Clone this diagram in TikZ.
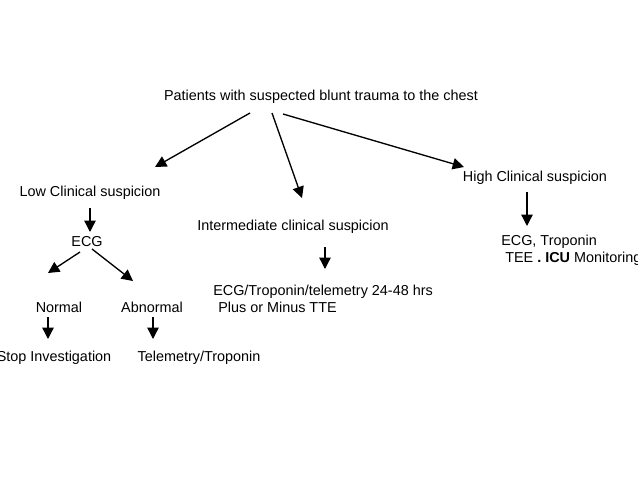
\documentclass[tikz,border=0pt]{standalone}
\usepackage{fontspec}
\setmainfont{Liberation Sans}
\usetikzlibrary{arrows.meta}
\begin{document}
\begin{tikzpicture}[x=0.75pt,y=-0.75pt,
  lbl/.style={inner sep=0pt,font=\fontsize{10.8pt}{12pt}\selectfont},
  arr/.style={line width=1pt,-{Triangle[length=8.5pt,width=8.5pt]}}]
\useasboundingbox (0,0) rectangle (638,478);
\fill[white] (0,0) rectangle (638,478);
\node[lbl] (top) at (321,97) {Patients with suspected blunt trauma to the chest};
\node[lbl] (low) at (90,193) {Low Clinical suspicion};
\node[lbl] (ecg) at (87,242) {ECG};
\node[lbl] (normal) at (59,307) {Normal};
\node[lbl] (abn) at (152,307) {Abnormal};
\node[lbl] (stop) at (54,358) {Stop Investigation};
\node[lbl] (tel) at (199,358) {Telemetry/Troponin};
\node[lbl] (inter) at (293,227) {Intermediate clinical suspicion};
\node[lbl,anchor=west] (ecgt) at (213,292) {ECG/Troponin/telemetry 24-48 hrs};
\node[lbl,anchor=west] (plus) at (218,307) {Plus or Minus TTE};
\node[lbl] (high) at (535,178) {High Clinical suspicion};
\node[lbl,anchor=west] (hecg) at (501,242) {ECG, Troponin};
\node[lbl,anchor=west] (htee) at (505,259) {TEE \textbf{. ICU} Monitoring};
% arrow endpoints
\coordinate (a1s) at (250,113); \coordinate (a1e) at (155,167);
\coordinate (a2s) at (272,113); \coordinate (a2e) at (302,198);
\coordinate (a3s) at (283,114); \coordinate (a3e) at (464,167);
\coordinate (b1s) at (90,208);  \coordinate (b1e) at (90,232);
\coordinate (c1s) at (80,252);  \coordinate (c1e) at (48,273);
\coordinate (c2s) at (92,249);  \coordinate (c2e) at (133,281);
\coordinate (d1s) at (48,317);  \coordinate (d1e) at (48,339);
\coordinate (d2s) at (153,317); \coordinate (d2e) at (153,339);
\coordinate (e1s) at (325,247); \coordinate (e1e) at (325,269);
\coordinate (f1s) at (527,192); \coordinate (f1e) at (527,226);
\draw[arr] (a1s) -- (a1e);
\draw[arr] (a2s) -- (a2e);
\draw[arr] (a3s) -- (a3e);
\draw[arr] (b1s) -- (b1e);
\draw[arr] (c1s) -- (c1e);
\draw[arr] (c2s) -- (c2e);
\draw[arr] (d1s) -- (d1e);
\draw[arr] (d2s) -- (d2e);
\draw[arr] (e1s) -- (e1e);
\draw[arr] (f1s) -- (f1e);
\end{tikzpicture}
\end{document}
